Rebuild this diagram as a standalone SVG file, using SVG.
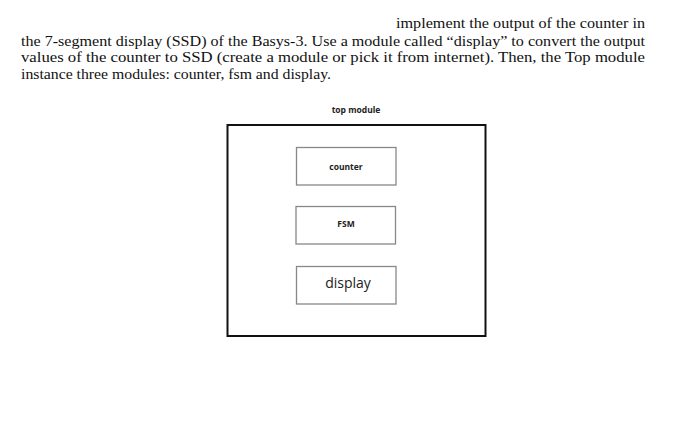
<svg xmlns="http://www.w3.org/2000/svg" width="690" height="423" viewBox="0 0 690 423">
<style>
.para{font-family:"Liberation Serif","Times New Roman",serif;font-size:15.5px;fill:#111}
.sm{font-family:"Open Sans","DejaVu Sans",sans-serif;font-size:8.5px;font-weight:bold;fill:#222;text-anchor:middle}
.mod{fill:#fff;stroke:#888;stroke-width:1.3}
</style>
<rect width="690" height="423" fill="#fff"/>
<g id="text">
<text class="para" x="396" y="27.5" textLength="249" lengthAdjust="spacingAndGlyphs">implement the output of the counter in</text>
<text class="para" x="21" y="45.5" textLength="624" lengthAdjust="spacingAndGlyphs">the 7-segment display (SSD) of the Basys-3. Use a module called “display” to convert the output</text>
<text class="para" x="21" y="62.3" textLength="624" lengthAdjust="spacingAndGlyphs">values of the counter to SSD (create a module or pick it from internet). Then, the Top module</text>
<text class="para" x="21" y="78.8" textLength="310" lengthAdjust="spacingAndGlyphs">instance three modules: counter, fsm and display.</text>
</g>
<g id="top">
<text class="sm" x="356" y="113">top module</text>
<rect x="227.5" y="125" width="258" height="211" fill="none" stroke="#111" stroke-width="2"/>
</g>
<g id="counter">
<rect class="mod" x="296.5" y="147.5" width="99.5" height="37.5"/>
<text class="sm" x="346" y="170">counter</text>
</g>
<g id="fsm">
<rect class="mod" x="296" y="206.5" width="99.5" height="37.5"/>
<text class="sm" x="346" y="226.5">FSM</text>
</g>
<g id="display">
<rect class="mod" x="296.5" y="266.5" width="99.5" height="37.5"/>
<text x="348" y="288" text-anchor="middle" style="font-family:'Open Sans','DejaVu Sans',sans-serif;font-size:14px;fill:#222">display</text>
</g>
<g id="connectors"/>
</svg>
